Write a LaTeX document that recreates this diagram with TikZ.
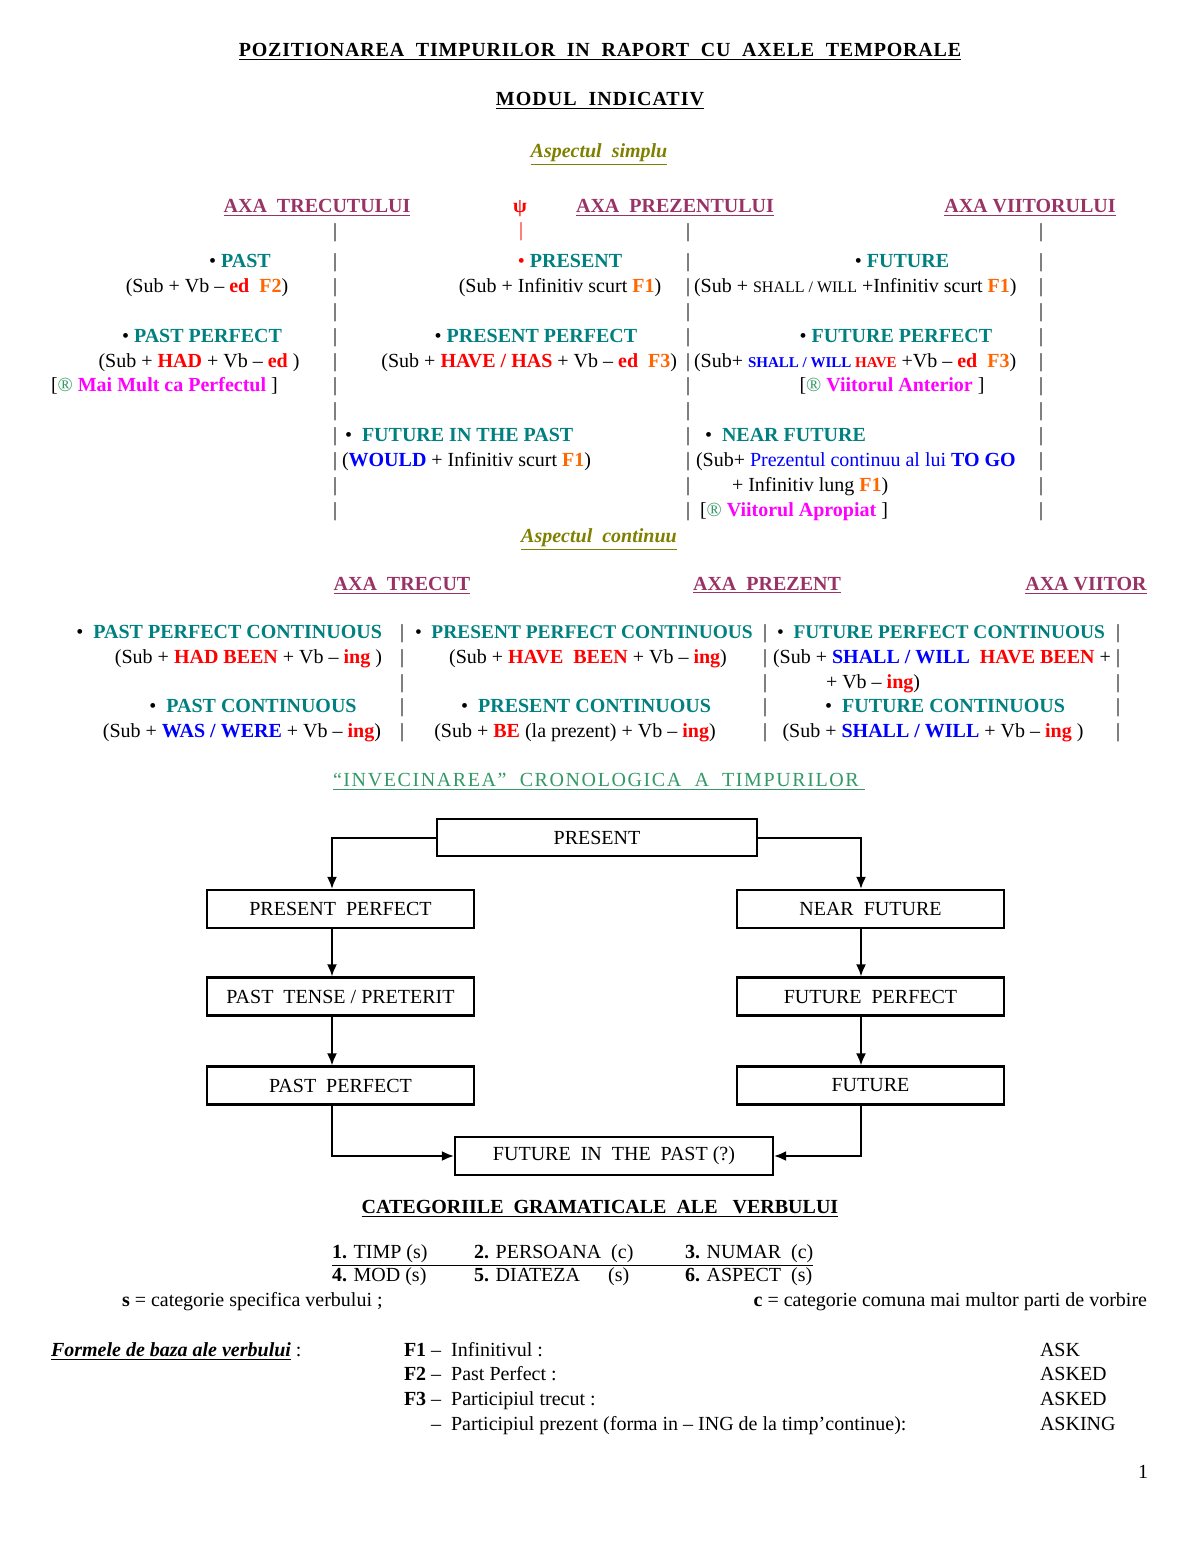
\documentclass[tikz,border=0pt]{standalone}
\usepackage{fontspec}
\setmainfont{Liberation Serif}
\usetikzlibrary{arrows.meta}
\definecolor{axisC}{HTML}{993366}
\definecolor{tenseC}{HTML}{008080}
\definecolor{redC}{HTML}{FF0000}
\definecolor{orC}{HTML}{FF6600}
\definecolor{bluC}{HTML}{0000FF}
\definecolor{magC}{HTML}{FF00FF}
\definecolor{olC}{HTML}{808000}
\definecolor{grC}{HTML}{339966}
\newcommand\tnsT[1]{\textcolor{tenseC}{\textbf{#1}}}
\newcommand\redT[1]{\textcolor{redC}{\textbf{#1}}}
\newcommand\orT[1]{\textcolor{orC}{\textbf{#1}}}
\newcommand\bluT[1]{\textcolor{bluC}{#1}}
\newcommand\bluB[1]{\textcolor{bluC}{\textbf{#1}}}
\newcommand\magT[1]{\textcolor{magC}{\textbf{#1}}}
\newcommand\regT{\textcolor{grC}{®}}
\newcommand\axT[1]{\textcolor{axisC}{\textbf{\underline{#1}}}}
\tikzset{
  txt/.style={inner sep=0pt, outer sep=0pt, font=\fontsize{10}{12}\selectfont},
  tc/.style={txt, anchor=base},
  tw/.style={txt, anchor=base west},
  te/.style={txt, anchor=base east},
  fbox/.style={draw, line width=1.1pt, inner sep=0pt, minimum width=133.5pt, minimum height=19pt, font=\fontsize{10}{12}\selectfont},
  arr/.style={line width=1pt, -{Latex[length=6pt,width=5pt]}},
}
\begin{document}
\begin{tikzpicture}[x=0.5pt,y=-0.5pt]
\fill[white] (0,0) rectangle (1200,1553);
\useasboundingbox (0,0) rectangle (1200,1553);

% titles
\node[tc] (title) at (600,56) {\addfontfeature{LetterSpace=4}\textbf{\underline{POZITIONAREA\ \ TIMPURILOR\ \ IN\ \ RAPORT\ \ CU\ \ AXELE\ \ TEMPORALE}}};
\node[tc] (modul) at (600,105) {\addfontfeature{LetterSpace=5}\textbf{\underline{MODUL\ \ INDICATIV}}};
\node[tc] (asps) at (599,157) {\textcolor{olC}{\textbf{\textit{\underline{Aspectul\ \ simplu}}}}};

% axes simple
\node[tc] (axT) at (317,212) {\axT{AXA\ \ TRECUTULUI}};
\node[tc] (psi) at (520,212) {\redT{ψ}};
\node[tc] (psibar) at (521,236) {\textcolor{redC}{|}};
\node[tc] (axP) at (675,212) {\axT{AXA\ \ PREZENTULUI}};
\node[tc] (axV) at (1030,212) {\axT{AXA VIITORULUI}};

% bars simple
\foreach \y [count=\i] in {237,267,292,317,342,367,391,416,441,466,491,516}{
  \node[tc] (bA\i) at (335,\y) {|};
  \node[tc] (bB\i) at (688,\y) {|};
  \node[tc] (bC\i) at (1041,\y) {|};
}

% left column
\node[tc] (past) at (240,267) {• \tnsT{PAST}};
\node[tc] (pastf) at (207,292) {(Sub + Vb – \redT{ed}\ \ \orT{F2})};
\node[tc] (pp) at (202,342) {• \tnsT{PAST PERFECT}};
\node[tc] (ppf) at (199,367) {(Sub + \redT{HAD} + Vb – \redT{ed} )};
\node[tw] (ppn) at (51,391) {[\regT\ \magT{Mai Mult ca Perfectul} ]};

% middle column
\node[tc] (pres) at (570,267) {\textcolor{redC}{•} \tnsT{PRESENT}};
\node[tc] (presf) at (560,292) {(Sub + Infinitiv scurt \orT{F1})};
\node[tc] (prp) at (536,342) {• \tnsT{PRESENT PERFECT}};
\node[te] (prpf) at (677,367) {(Sub + \redT{HAVE / HAS} + Vb – \redT{ed}\ \ \orT{F3})};
\node[tw] (fitp) at (345,441) {• \ \tnsT{FUTURE IN THE PAST}};
\node[tw] (fitpf) at (342,466) {(\bluB{WOULD} + Infinitiv scurt \orT{F1})};

% right column
\node[tc] (fut) at (902,267) {• \tnsT{FUTURE}};
\node[tw] (futf) at (694,292) {(Sub + {\fontsize{8}{10}\selectfont SHALL / WILL} +Infinitiv scurt \orT{F1})};
\node[tc] (fp) at (896,342) {• \tnsT{FUTURE PERFECT}};
\node[tw] (fpf) at (694,367) {(Sub+ {\fontsize{7.5}{9}\selectfont\bluB{SHALL / WILL} \redT{HAVE}} +Vb – \redT{ed}\ \ \orT{F3})};
\node[tc] (fpn) at (892,391) {[\regT\ \magT{Viitorul Anterior} ]};
\node[tw] (nf) at (705,441) {• \ \tnsT{NEAR FUTURE}};
\node[tw] (nff) at (696,466) {(Sub+ \bluT{Prezentul continuu al lui} \bluB{TO GO}};
\node[tw] (nff2) at (732,491) {+ Infinitiv lung \orT{F1})};
\node[tw] (nfn) at (700,516) {[\regT\ \magT{Viitorul Apropiat} ]};

% continuous
\node[tc] (aspc) at (599,542) {\textcolor{olC}{\textbf{\textit{\underline{Aspectul\ \ continuu}}}}};
\node[tc] (axT2) at (402,590) {\axT{AXA\ \ TRECUT}};
\node[tc] (axP2) at (767,590) {\axT{AXA\ \ PREZENT}};
\node[tc] (axV2) at (1086,590) {\axT{AXA VIITOR}};

\foreach \y [count=\i] in {638,663,688,712,737}{
  \node[tc] (cA\i) at (402,\y) {|};
  \node[tc] (cB\i) at (765,\y) {|};
  \node[tc] (cC\i) at (1118,\y) {|};
}
\node[te] (ppc) at (382,638) {• \ \tnsT{PAST PERFECT CONTINUOUS}};
\node[tw] (prpc) at (415,638) {\fontsize{9.7}{12}\selectfont • \ \tnsT{PRESENT PERFECT CONTINUOUS}};
\node[tw] (fpc) at (777,638) {\fontsize{9.7}{12}\selectfont • \ \tnsT{FUTURE PERFECT CONTINUOUS}};
\node[te] (ppcf) at (382,663) {(Sub + \redT{HAD BEEN} + Vb – \redT{ing} )};
\node[tc] (prpcf) at (588,663) {(Sub + \redT{HAVE\ \ BEEN} + Vb – \redT{ing})};
\node[tw] (fpcf) at (773,663) {(Sub + \bluB{SHALL / WILL}\ \ \redT{HAVE BEEN} +};
\node[tw] (fpcf2) at (826,688) {+ Vb – \redT{ing})};
\node[tc] (pc) at (253,712) {• \ \tnsT{PAST CONTINUOUS}};
\node[tc] (prc) at (586,712) {• \ \tnsT{PRESENT CONTINUOUS}};
\node[tc] (fc) at (945,712) {• \ \tnsT{FUTURE CONTINUOUS}};
\node[te] (pcf) at (381,737) {(Sub + \bluB{WAS / WERE} + Vb – \redT{ing})};
\node[tc] (prcf) at (575,737) {(Sub + \redT{BE} (la prezent) + Vb – \redT{ing})};
\node[tc] (fcf) at (933,737) {(Sub + \bluB{SHALL / WILL} + Vb – \redT{ing} )};

% invecinarea
\node[tw] (inv) at (333,786) {\textcolor{grC}{\addfontfeature{LetterSpace=8}\underline{“INVECINAREA”\ \ CRONOLOGICA\ \ A\ \ TIMPURILOR\ }}};

% flowchart
\node[fbox, minimum width=160pt, minimum height=18.5pt] (bPres) at (597,837.5) {PRESENT};
\node[fbox] (bPP) at (340.5,909) {PRESENT\ \ PERFECT};
\node[fbox] (bNF) at (870.5,909) {NEAR\ \ FUTURE};
\node[fbox] (bPT) at (340.5,996.5) {PAST\ \ TENSE / PRETERIT};
\node[fbox] (bFP) at (870.5,996.5) {FUTURE\ \ PERFECT};
\node[fbox] (bPaP) at (340.5,1085.5) {PAST\ \ PERFECT};
\node[fbox] (bF) at (870.5,1085.5) {FUTURE};
\node[fbox, minimum width=159pt] (bFitp) at (614,1156) {FUTURE\ \ IN\ \ THE\ \ PAST (?)};
\coordinate (lx) at (332,0);
\coordinate (rx) at (861,0);
\draw[arr] (bPres.west) -| (lx |- bPP.north);
\draw[arr] (bPres.east) -| (rx |- bNF.north);
\draw[arr] (lx |- bPP.south) -- (lx |- bPT.north);
\draw[arr] (lx |- bPT.south) -- (lx |- bPaP.north);
\draw[arr] (rx |- bNF.south) -- (rx |- bFP.north);
\draw[arr] (rx |- bFP.south) -- (rx |- bF.north);
\draw[arr] (lx |- bPaP.south) |- (bFitp.west);
\draw[arr] (rx |- bF.south) |- (bFitp.east);

% categories
\node[tc] (cat) at (600,1213) {\textbf{\underline{CATEGORIILE\ \ GRAMATICALE\ \ ALE\ \ \ VERBULUI}}};
\node[tw] (catr1) at (332,1258) {\underline{\makebox[71pt][l]{\textbf{1.} TIMP (s)}\makebox[105.5pt][l]{\textbf{2.} PERSOANA\ \ (c)}\textbf{3.} NUMAR\ \ (c)}};
\node[tw] (catr2) at (332,1281) {\makebox[71pt][l]{\textbf{4.} MOD (s)}\makebox[105.5pt][l]{\textbf{5.} DIATEZA\hspace{14pt}(s)}\textbf{6.} ASPECT\ \ (s)};
\node[tw] (sdef) at (122,1306) {\textbf{s} = categorie specifica verbului ;};
\node[te] (cdef) at (1147,1306) {\textbf{c} = categorie comuna mai multor parti de vorbire};

% formele
\node[tw] (form) at (51,1356) {\textbf{\textit{\underline{Formele de baza ale verbului}}} :};
\node[tw] (f1) at (404,1356) {\textbf{F1} –\ \ Infinitivul :};
\node[tw] (f2) at (404,1380) {\textbf{F2} –\ \ Past Perfect :};
\node[tw] (f3) at (404,1405) {\textbf{F3} –\ \ Participiul trecut :};
\node[tw] (f4) at (431,1430) {–\ \ Participiul prezent (forma in – ING de la timp’continue):};
\node[tw] (a1) at (1040,1356) {ASK};
\node[tw] (a2) at (1040,1380) {ASKED};
\node[tw] (a3) at (1040,1405) {ASKED};
\node[tw] (a4) at (1040,1430) {ASKING};
\node[tc] (pg) at (1143,1478) {1};
\end{tikzpicture}
\end{document}
